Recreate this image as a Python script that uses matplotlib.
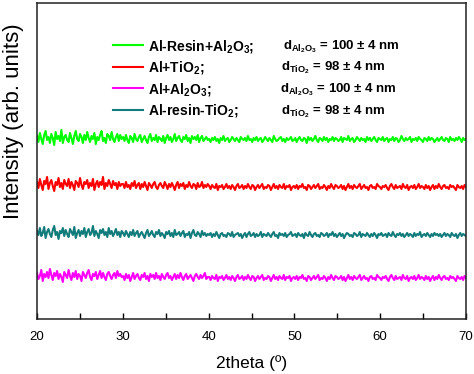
import matplotlib
matplotlib.use("Agg")
import matplotlib.pyplot as plt
import numpy as np
from matplotlib.lines import Line2D

plt.rcParams['font.family'] = ['Liberation Sans', 'DejaVu Sans']
plt.rcParams['mathtext.fontset'] = 'custom'
plt.rcParams['mathtext.rm'] = 'Liberation Sans:bold'
plt.rcParams['mathtext.bf'] = 'Liberation Sans:bold'
plt.rcParams['mathtext.it'] = 'Liberation Sans:bold'
plt.rcParams['mathtext.default'] = 'bf'

# ---------------- data ----------------
theta_min, theta_max = 20, 70

green_al_resin_al2o3 = [
    183, 177, 186, 180, 175, 184, 188, 179, 182, 176, 185, 181, 174, 187, 180, 183, 178, 189, 176, 182,
    184, 179, 177, 186, 181, 175, 183, 188, 180, 178, 185, 182, 176, 184, 179, 187, 181, 177, 183, 180,
    186, 175, 182, 179, 184, 188, 178, 181, 176, 185, 183, 179, 187, 180, 177, 182, 185, 178, 184, 180,
    182, 178, 184, 179, 176, 183, 181, 177, 185, 180, 178, 182, 184, 177, 180, 183, 179, 176, 182, 185,
    178, 181, 179, 184, 177, 182, 180, 178, 183, 176, 181, 184, 179, 182, 177, 180, 185, 178, 181, 183,
    179, 177, 182, 180, 184, 178, 181, 176, 183, 180, 182, 179, 184, 177, 181, 183, 178, 180, 182, 179,
    180, 177, 181, 179, 182, 178, 180, 176, 181, 179, 183, 178, 180, 181, 177, 179, 182, 180, 178, 181,
    179, 177, 182, 180, 179, 181, 178, 183, 179, 180, 177, 181, 179, 182, 178, 180, 181, 177, 179, 182,
    180, 178, 181, 179, 177, 183, 180, 178, 179, 181, 182, 178, 180, 177, 181, 179, 180, 182, 178, 179,
    181, 177, 180, 182, 179, 178, 181, 180, 176, 182, 179, 181, 178, 180, 183, 179, 177, 181, 180, 178,
    182, 179, 181, 177, 180, 179, 182, 178, 181, 180, 178, 179, 182, 177, 181, 180, 179, 183, 178, 180,
    181, 177, 179, 182, 180, 178, 181, 179, 180, 177, 182, 179, 181, 178, 180, 182, 179, 177, 181, 180,
    179, 182, 178, 180, 181, 177, 180, 179, 182, 178, 181, 180, 177, 179, 183, 180, 178, 181, 179, 180,
    182, 177, 180, 179, 181, 178, 182, 180, 179, 177, 181, 180, 178, 182, 179, 181, 180, 177, 179, 181,
    178, 180, 182, 179, 178, 181, 180, 177, 182, 179, 180, 178, 181, 179, 182, 180, 177, 181, 179, 180]

red_al_tio2 = [
    137, 131, 140, 134, 129, 138, 135, 142, 130, 136, 139, 133, 128, 137, 134, 141, 132, 136, 130, 139,
    135, 133, 140, 131, 137, 134, 129, 138, 136, 132, 141, 134, 130, 137, 135, 139, 131, 136, 133, 140,
    129, 135, 138, 132, 137, 134, 142, 130, 136, 133, 139, 135, 131, 138, 134, 136, 130, 137, 133, 135,
    135, 131, 137, 132, 134, 130, 136, 133, 138, 131, 134, 136, 130, 135, 132, 137, 133, 129, 136, 134,
    131, 135, 137, 132, 130, 134, 136, 133, 131, 137, 134, 130, 135, 132, 136, 133, 129, 134, 137, 131,
    135, 133, 136, 130, 134, 132, 137, 133, 131, 135, 134, 130, 136, 132, 133, 137, 131, 134, 132, 135,
    133, 130, 134, 132, 131, 135, 129, 133, 132, 134, 130, 132, 135, 131, 133, 130, 134, 132, 129, 133,
    135, 131, 132, 134, 130, 133, 131, 135, 132, 130, 134, 133, 129, 132, 134, 131, 133, 135, 130, 132,
    131, 134, 133, 129, 132, 135, 131, 133, 130, 134, 132, 131, 135, 130, 133, 132, 134, 129, 132, 133,
    131, 134, 130, 133, 132, 135, 131, 132, 129, 134, 133, 130, 132, 134, 131, 133, 135, 130, 132, 131,
    134, 132, 129, 133, 131, 135, 132, 130, 134, 133, 131, 132, 134, 130, 133, 129, 132, 135, 131, 133,
    130, 134, 132, 131, 133, 135, 130, 132, 134, 131, 132, 129, 133, 134, 131, 132, 130, 135, 133, 132,
    130, 133, 132, 134, 131, 129, 133, 135, 132, 130, 134, 131, 132, 133, 130, 135, 132, 131, 134, 129,
    132, 133, 131, 134, 130, 132, 135, 131, 133, 132, 130, 134, 131, 133, 129, 132, 134, 130, 133, 131,
    135, 132, 130, 133, 134, 131, 132, 130, 134, 132, 133, 131, 129, 134, 132, 131, 133, 130, 134, 132]

teal_al_resin_tio2 = [
    88, 84, 91, 83, 86, 92, 81, 87, 90, 85, 82, 89, 93, 84, 87, 80, 88, 86, 91, 83,
    89, 85, 82, 90, 87, 84, 92, 81, 86, 89, 83, 88, 85, 91, 82, 87, 90, 84, 86, 93,
    83, 88, 85, 81, 89, 86, 90, 84, 87, 82, 91, 85, 88, 83, 86, 90, 84, 87, 82, 88,
    86, 83, 88, 85, 82, 87, 84, 89, 83, 86, 88, 82, 85, 87, 84, 81, 86, 89, 83, 85,
    88, 84, 82, 87, 85, 89, 83, 86, 84, 81, 87, 85, 88, 83, 86, 82, 89, 84, 85, 87,
    83, 86, 88, 82, 85, 84, 87, 81, 86, 89, 84, 83, 87, 85, 82, 88, 84, 86, 83, 85,
    84, 86, 82, 85, 83, 87, 84, 81, 85, 86, 83, 84, 82, 86, 85, 83, 87, 82, 84, 85,
    86, 83, 85, 81, 84, 86, 82, 85, 87, 83, 84, 86, 82, 85, 83, 84, 87, 82, 85, 84,
    83, 86, 84, 82, 85, 87, 83, 84, 81, 86, 84, 85, 83, 86, 82, 84, 85, 87, 83, 84,
    85, 82, 86, 84, 83, 85, 81, 86, 84, 83, 87, 84, 82, 85, 86, 83, 84, 82, 86, 85,
    83, 84, 86, 82, 85, 84, 87, 83, 85, 82, 84, 86, 83, 85, 81, 84, 86, 85, 83, 84,
    82, 86, 85, 83, 84, 87, 82, 85, 84, 83, 86, 84, 82, 85, 83, 86, 84, 81, 85, 84,
    86, 83, 84, 85, 82, 86, 84, 83, 87, 84, 82, 85, 84, 86, 83, 85, 82, 84, 86, 83,
    85, 84, 82, 86, 83, 85, 84, 87, 82, 84, 85, 83, 86, 84, 82, 85, 83, 86, 84, 85,
    83, 85, 82, 84, 86, 83, 85, 84, 82, 86, 84, 83, 85, 81, 84, 86, 83, 85, 84, 83]

magenta_al_al2o3 = [
    46, 40, 43, 49, 38, 45, 42, 47, 41, 50, 44, 39, 46, 43, 48, 40, 45, 42, 37, 47,
    44, 41, 49, 43, 39, 46, 42, 48, 40, 45, 43, 38, 47, 44, 41, 46, 49, 42, 39, 45,
    43, 47, 40, 44, 48, 41, 46, 42, 39, 45, 47, 43, 40, 44, 46, 41, 48, 43, 45, 42,
    43, 39, 45, 41, 44, 38, 42, 46, 40, 43, 45, 41, 39, 44, 42, 46, 40, 43, 38, 45,
    42, 44, 40, 46, 41, 43, 39, 45, 42, 40, 44, 46, 41, 43, 39, 42, 45, 40, 44, 41,
    46, 42, 39, 43, 45, 40, 42, 44, 41, 38, 43, 45, 42, 40, 44, 41, 43, 46, 40, 42,
    42, 39, 43, 41, 40, 44, 38, 42, 41, 43, 39, 41, 44, 40, 42, 39, 43, 41, 38, 42,
    44, 40, 41, 43, 39, 42, 40, 44, 41, 39, 43, 42, 38, 41, 43, 40, 42, 44, 39, 41,
    40, 43, 42, 38, 41, 44, 40, 42, 39, 43, 41, 40, 44, 39, 42, 41, 43, 38, 41, 42,
    40, 43, 39, 42, 41, 44, 40, 41, 38, 43, 42, 39, 41, 43, 40, 42, 44, 39, 41, 40,
    43, 41, 38, 42, 40, 44, 41, 39, 43, 42, 40, 41, 43, 39, 42, 38, 41, 44, 40, 42,
    39, 43, 41, 40, 42, 44, 39, 41, 43, 40, 41, 38, 42, 43, 40, 41, 39, 44, 42, 41,
    39, 42, 41, 43, 40, 38, 42, 44, 41, 39, 43, 40, 41, 42, 39, 44, 41, 40, 43, 38,
    41, 42, 40, 43, 39, 41, 44, 40, 42, 41, 39, 43, 40, 42, 38, 41, 43, 39, 42, 40,
    44, 41, 39, 42, 43, 40, 41, 39, 43, 41, 42, 40, 38, 43, 41, 40, 42, 39, 43, 41]

series_labels = ["Al-Resin+Al$_2$O$_3$;", "Al+TiO$_2$;", "Al+Al$_2$O$_3$;", "Al-resin-TiO$_2$;"]
size_labels = ["d$_{Al_2O_3}$ = 100 \u00b1 4 nm", "d$_{TiO_2}$ = 98 \u00b1 4 nm",
               "d$_{Al_2O_3}$ = 100 \u00b1 4 nm", "d$_{TiO_2}$ = 98 \u00b1 4 nm"]
x_ticks = [20, 30, 40, 50, 60, 70]

colors = {"green": "#00ff00", "red": "#ff0000", "magenta": "#ff00ff", "teal": "#127c7c"}

# ---------------- plot ----------------
fig = plt.figure(figsize=(4.74, 3.74), dpi=100)
ax = fig.add_axes([37/474, 55/374, 429/474, 316/374])

traces = [(green_al_resin_al2o3, colors["green"]),
          (red_al_tio2, colors["red"]),
          (teal_al_resin_tio2, colors["teal"]),
          (magenta_al_al2o3, colors["magenta"])]
for vals, c in traces:
    x = np.linspace(theta_min, theta_max, len(vals))
    ax.plot(x, vals, color=c, lw=1.5)

ax.set_xlim(theta_min, theta_max)
ax.set_ylim(0, 316)
ax.set_xticks(x_ticks)
ax.set_xticks(np.arange(25, 70, 10), minor=True)
ax.set_yticks([])
ax.tick_params(axis='x', which='both', direction='in', top=False, labelsize=9.5, pad=9, width=1)
ax.tick_params(axis='x', which='major', length=4)
ax.tick_params(axis='x', which='minor', length=4)
for s in ax.spines.values():
    s.set_linewidth(1.1)
    s.set_color('#222222')

ax.set_xlabel("2theta (\u00ba)", fontsize=12.5, labelpad=8)
ax.set_ylabel("Intensity (arb. units)", fontsize=16)
ax.yaxis.set_label_coords(-0.030, 0.625)

handles = [Line2D([], [], color=colors["green"], lw=1.5),
           Line2D([], [], color=colors["red"], lw=1.5),
           Line2D([], [], color=colors["magenta"], lw=1.5),
           Line2D([], [], color=colors["teal"], lw=1.5)]
leg = ax.legend(handles, series_labels, loc='upper left', bbox_to_anchor=(0.177, 0.89),
                frameon=False, handlelength=2.2, handletextpad=0.3,
                labelspacing=0.32, borderpad=0, borderaxespad=0,
                prop={'weight': 'bold', 'size': 10})

row_y = [0.862, 0.794, 0.725, 0.655]
row_x = [0.574, 0.569, 0.567, 0.569]
for xx, yy, t in zip(row_x, row_y, size_labels):
    ax.text(xx, yy, t, transform=ax.transAxes, fontsize=9.5, fontweight='bold', va='center', ha='left')

fig.savefig("out.png", dpi=100)
